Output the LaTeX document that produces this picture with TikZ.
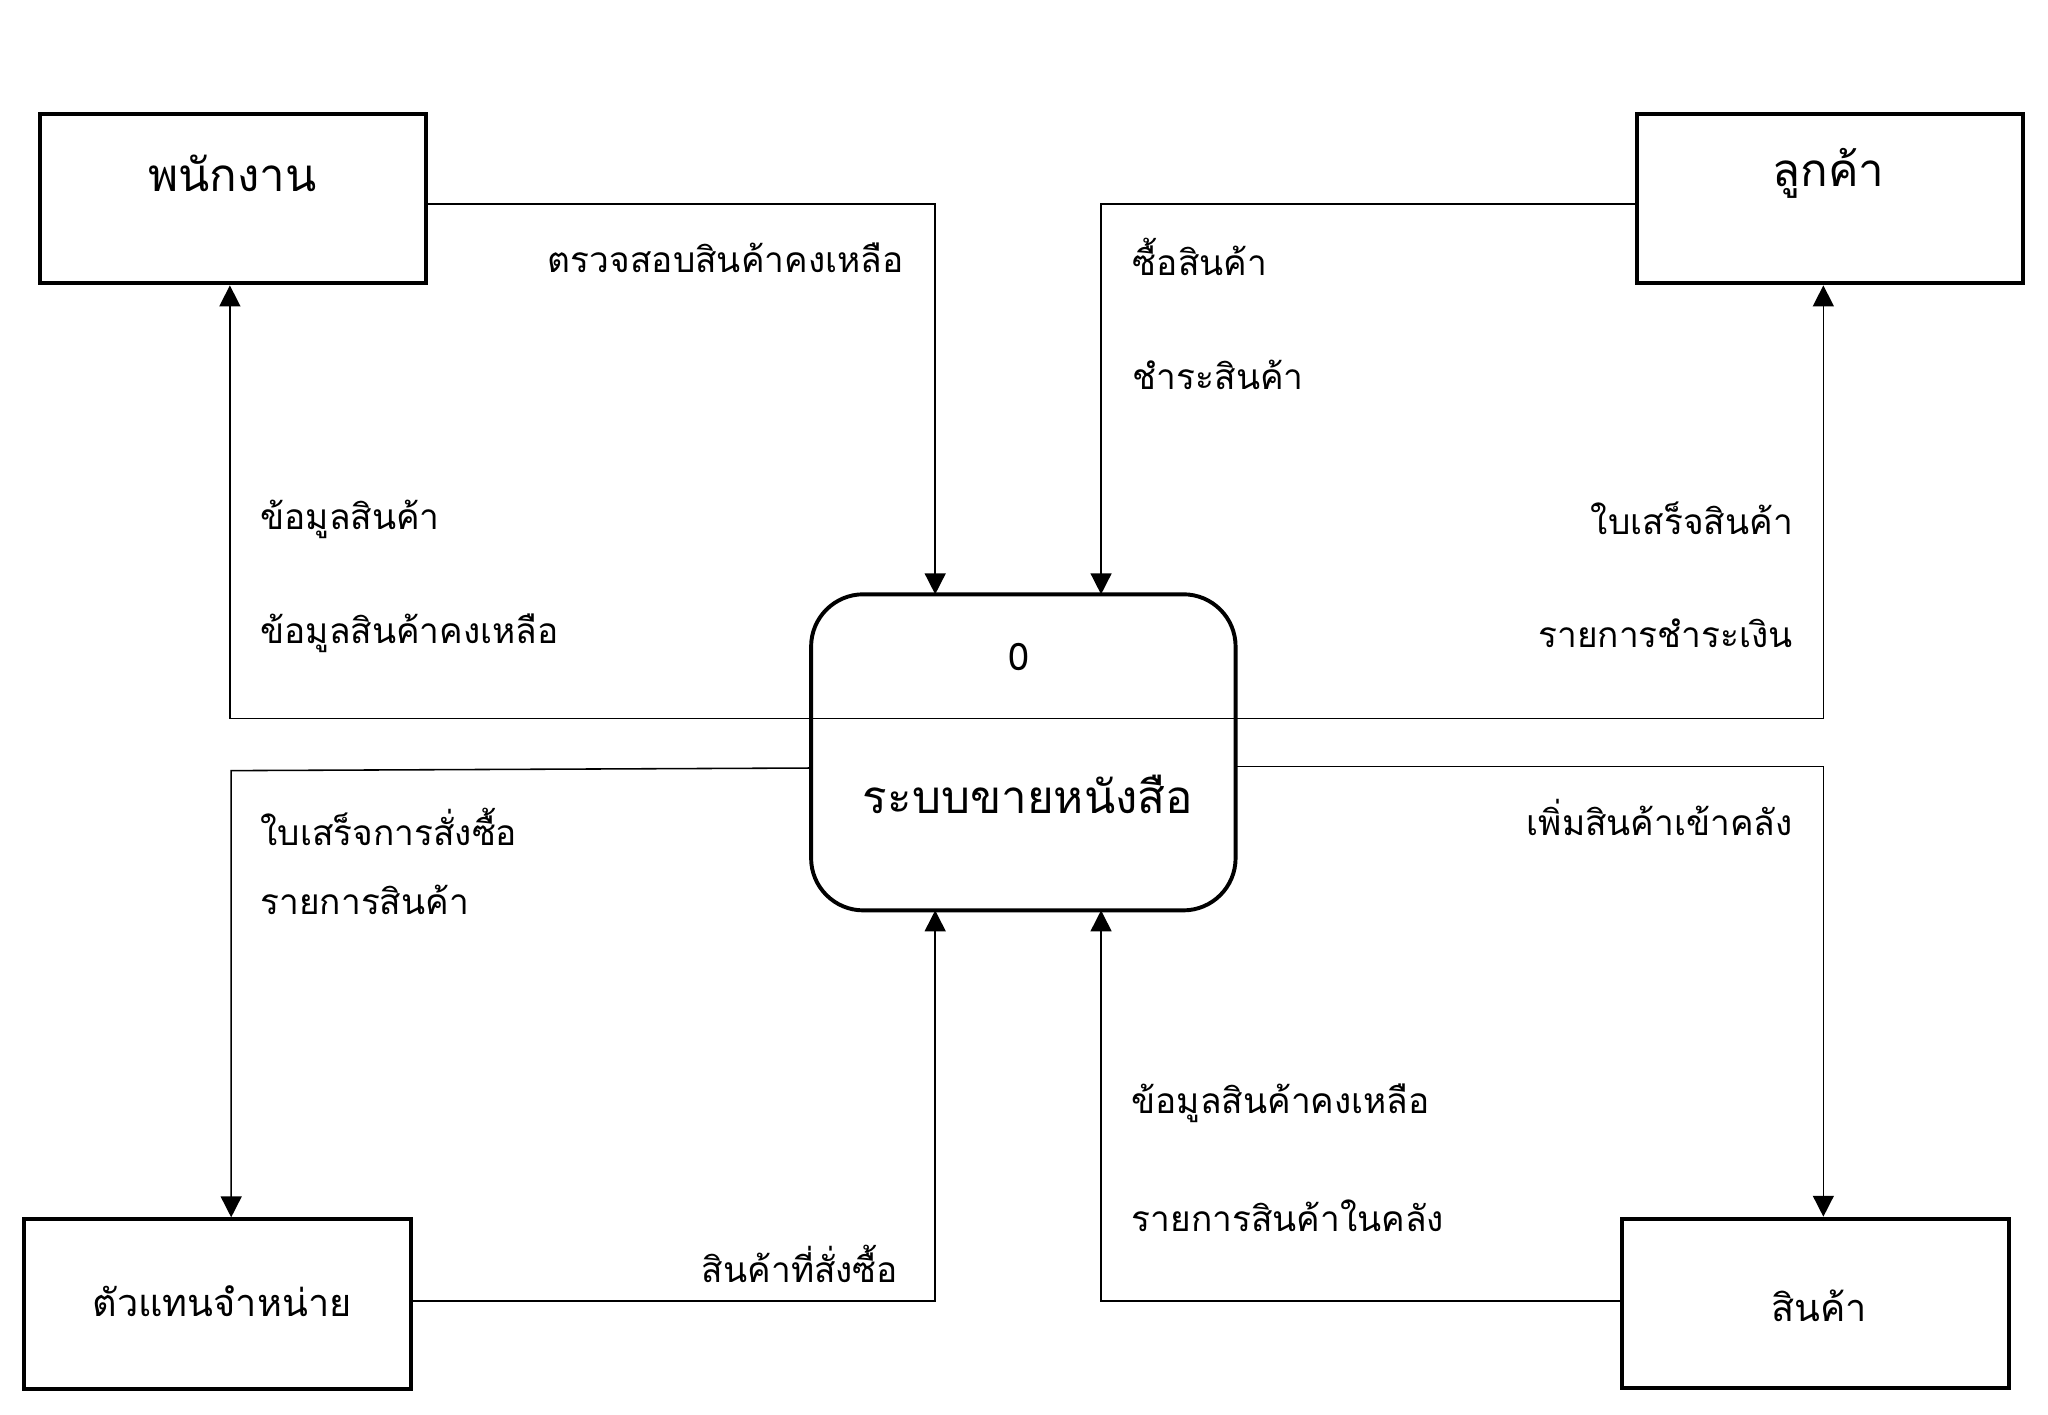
\documentclass[tikz,border=0pt]{standalone}
\usepackage{fontspec}
\newfontfamily\thaifont[Script=Thai]{Loma}
\usetikzlibrary{arrows.meta}
\begin{document}
\begin{tikzpicture}[x=0.5pt,y=-0.5pt,
  ent/.style={draw,line width=1.5pt,minimum width=148pt,minimum height=65pt,inner sep=0pt},
  flow/.style={line width=0.6pt,-{Triangle[length=8pt,width=8pt]}},
  lbl/.style={font=\thaifont\fontsize{13.5}{16}\selectfont,inner sep=0pt},
  big/.style={font=\thaifont\fontsize{17.5}{20}\selectfont,inner sep=0pt},
  mid/.style={font=\thaifont\fontsize{14.5}{17}\selectfont,inner sep=0pt}]
\useasboundingbox (0,0) rectangle (1568,1083);
\node[ent] (emp) at (178.5,152) {};
\node[ent] (cus) at (1401,152) {};
\node[ent] (agt) at (166.5,998.5) {};
\node[ent] (prd) at (1390,998) {};
\node[big] at (178,133) {พนักงาน};
\node[big] at (1400,133) {ลูกค้า};
\node[mid] at (170,996) {ตัวแทนจำหน่าย};
\node[mid] at (1393,1000) {สินค้า};
\node[draw,line width=1.5pt,rounded corners=20pt,minimum width=162.5pt,minimum height=121pt,inner sep=0pt] (proc) at (783.5,576) {};
\draw[line width=0.6pt] (proc.west |- 0,550) coordinate (pl1) -- (proc.east |- 0,550) coordinate (pr1);
\coordinate (pl2) at (621,588);
\coordinate (pr2) at (946,587);
\node[mid] at (780,503) {0};
\node[big] at (787,608) {ระบบขายหนังสือ};
% flows
\coordinate (a1) at (716,156); \coordinate (a2) at (716,455);
\draw[flow] (emp.east |- a1) -- (a1) -- (a2);
\coordinate (b1) at (843,156); \coordinate (b2) at (843,455);
\draw[flow] (cus.west |- b1) -- (b1) -- (b2);
\coordinate (c1) at (176,550);
\draw[flow] (pl1) -- (c1) -- (emp.south -| c1);
\coordinate (d1) at (1396,550);
\draw[flow] (pr1) -- (d1) -- (cus.south -| d1);
\coordinate (e1) at (177,590);
\draw[flow] (pl2) -- (e1) -- (agt.north -| e1);
\coordinate (f1) at (1396,587);
\draw[flow] (pr2) -- (f1) -- (prd.north -| f1);
\coordinate (g1) at (716,996); \coordinate (g2) at (716,697);
\draw[flow] (agt.east |- g1) -- (g1) -- (g2);
\coordinate (h1) at (843,996); \coordinate (h2) at (843,697);
\draw[flow] (prd.west |- h1) -- (h1) -- (h2);
% labels
\node[lbl,anchor=east] at (692,197) {ตรวจสอบสินค้าคงเหลือ};
\node[lbl,anchor=west] at (867,197) {ซื้อสินค้า};
\node[lbl,anchor=west] at (867,287) {ชำระสินค้า};
\node[lbl,anchor=west] at (199,398) {ข้อมูลสินค้า};
\node[lbl,anchor=west] at (199,485) {ข้อมูลสินค้าคงเหลือ};
\node[lbl,anchor=east] at (1373,397) {ใบเสร็จสินค้า};
\node[lbl,anchor=east] at (1373,485) {รายการชำระเงิน};
\node[lbl,anchor=west] at (199,633) {ใบเสร็จการสั่งซื้อ};
\node[lbl,anchor=west] at (199,689) {รายการสินค้า};
\node[lbl,anchor=east] at (1373,626) {เพิ่มสินค้าเข้าคลัง};
\node[lbl,anchor=west] at (866,845) {ข้อมูลสินค้าคงเหลือ};
\node[lbl,anchor=west] at (866,931) {รายการสินค้าในคลัง};
\node[lbl,anchor=east] at (688,968) {สินค้าที่สั่งซื้อ};
\end{tikzpicture}
\end{document}
